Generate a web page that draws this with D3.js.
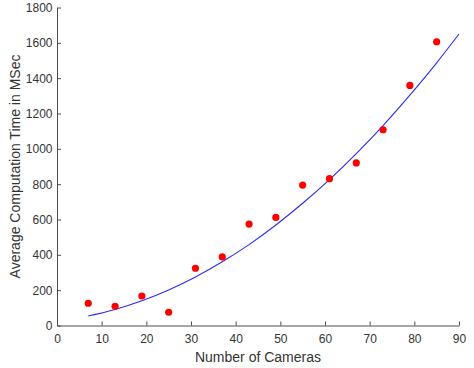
<!DOCTYPE html>
<html><head><meta charset="utf-8">
<script src="https://cdn.jsdelivr.net/npm/d3@7"></script>
<style>body{margin:0;background:#fff}svg{display:block}</style>
</head><body>
<svg id="c" width="474" height="368"></svg>
<script>
const cameras = [7,13,19,25,31,37,43,49,55,61,67,73,79,85];
const timesMs = [126,109,167,75,324,388,574,612,795,831,920,1108,1359,1606];
const fitX = [7,13,19,25,31,37,43,49,55,61,67,73,79,85,90];
const fitY = [54,91,140,201,275,361,458,569,692,826,973,1132,1304,1487,1650];
const xTicks = [0,10,20,30,40,50,60,70,80,90];
const yTicks = [0,200,400,600,800,1000,1200,1400,1600,1800];

const svg = d3.select("#c");
const m = {l:57, r:15, t:7.5, b:42.5};
const W = 474, H = 368;
const x = d3.scaleLinear().domain([0,90]).range([m.l, W - m.r]);
const y = d3.scaleLinear().domain([0,1800]).range([H - m.b, m.t]);
const axisColor = "#4d4d4d";
const font = "'Liberation Sans', Arial, sans-serif";

const gx = svg.append("g").attr("transform", `translate(0,${H - m.b})`)
  .call(d3.axisBottom(x).tickValues(xTicks).tickFormat(d3.format("d")).tickSize(-4).tickPadding(9).tickSizeOuter(0));
const gy = svg.append("g").attr("transform", `translate(${m.l},0)`)
  .call(d3.axisLeft(y).tickValues(yTicks).tickFormat(d3.format("d")).tickSize(-4).tickPadding(4.5).tickSizeOuter(0));
[gx, gy].forEach(g => {
  g.select(".domain").attr("stroke", axisColor).attr("stroke-width", 1);
  g.selectAll(".tick line").attr("stroke", axisColor);
  g.selectAll(".tick text").attr("fill", "#333").style("font-family", font).style("font-size", "12px");
});

const line = d3.line().x((d,i) => x(fitX[i])).y(d => y(d)).curve(d3.curveMonotoneX);
svg.append("path").datum(fitY).attr("d", line)
  .attr("fill", "none").attr("stroke", "#2a2aff").attr("stroke-width", 1.1);

svg.selectAll("circle.pt").data(timesMs).join("circle").attr("class","pt")
  .attr("cx", (d,i) => x(cameras[i])).attr("cy", d => y(d)).attr("r", 3.6)
  .attr("fill", "#ff0000");

svg.append("text").attr("x", (m.l + W - m.r)/2).attr("y", 362)
  .attr("text-anchor","middle").attr("fill","#333")
  .style("font-family", font).style("font-size","14px").text("Number of Cameras");
svg.append("text").attr("transform", `translate(19.5,${(m.t + H - m.b)/2}) rotate(-90)`)
  .attr("text-anchor","middle").attr("fill","#333")
  .style("font-family", font).style("font-size","14px").text("Average Computation Time in MSec");
</script>
</body></html>
